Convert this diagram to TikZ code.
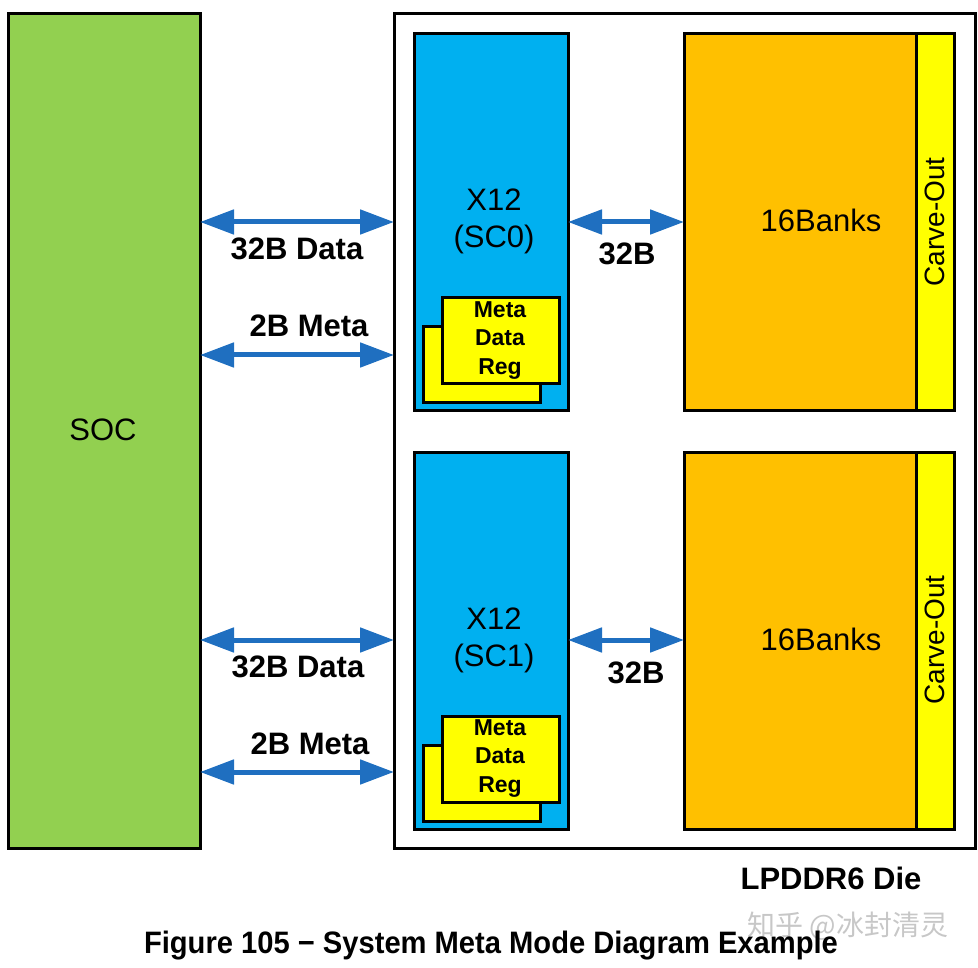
\documentclass[tikz,border=0pt]{standalone}
\usepackage{fontspec}
\setmainfont{Liberation Sans}
\newfontfamily\cjk{Noto Sans CJK SC}
\usetikzlibrary{arrows.meta}
\definecolor{socgreen}{HTML}{92D050}
\definecolor{scblue}{HTML}{00B0F0}
\definecolor{bankorange}{HTML}{FFC000}
\definecolor{coyellow}{HTML}{FFFF00}
\definecolor{arrblue}{HTML}{1F6FC0}
\tikzset{
  box/.style={draw=black, line width=3pt, anchor=north west, inner sep=0pt, outer sep=0pt},
  arr/.style={draw=arrblue, line width=5pt,
    {Triangle[length=34pt,width=24pt]}-{Triangle[length=34pt,width=24pt]}},
  regtxt/.style={font=\fontsize{31}{37}\selectfont, align=center, inner sep=0pt},
  lbl/.style={font=\fontsize{31}{37}\selectfont\bfseries, inner sep=0pt},
  mtxt/.style={font=\fontsize{23}{28.5}\selectfont\bfseries, align=center, inner sep=0pt},
  cotxt/.style={font=\fontsize{28}{34}\selectfont, rotate=90, inner sep=0pt},
}
\begin{document}
\begin{tikzpicture}[x=1pt,y=-1pt]
\useasboundingbox (0,0) rectangle (978,968);
% SOC
\node[box, fill=socgreen, minimum width=192pt, minimum height=834pt] (soc) at (8,14) {};
\node[regtxt] (soct) at (103,430) {SOC};
% Die
\node[box, fill=white, minimum width=581pt, minimum height=834pt] (die) at (394,14) {};
% Upper sub-channel
\node[box, fill=scblue, minimum width=154pt, minimum height=377pt] (sc0) at (414,34) {};
\node[regtxt] (sc0t) at (494,221.5) {X12\\(SC0)};
\node[box, fill=coyellow, minimum width=117pt, minimum height=76pt] (mdr0b) at (423,327) {};
\node[box, fill=coyellow, minimum width=117pt, minimum height=86pt] (mdr0f) at (442,298) {};
\node[mtxt] (mdr0t) at (500,340.5) {Meta\\Data\\Reg};
\node[box, fill=bankorange, minimum width=232pt, minimum height=377pt] (bk0) at (684,34) {};
\node[box, fill=coyellow, minimum width=38pt, minimum height=377pt] (co0) at (916,34) {};
\node[regtxt] (bk0t) at (821,220) {16Banks};
\node[cotxt] (co0t) at (935,222) {Carve-Out};
% Lower sub-channel
\node[box, fill=scblue, minimum width=154pt, minimum height=377pt] (sc1) at (414,452) {};
\node[regtxt] (sc1t) at (494,640.5) {X12\\(SC1)};
\node[box, fill=coyellow, minimum width=117pt, minimum height=76pt] (mdr1b) at (423,745) {};
\node[box, fill=coyellow, minimum width=117pt, minimum height=86pt] (mdr1f) at (442,716) {};
\node[mtxt] (mdr1t) at (500,758.5) {Meta\\Data\\Reg};
\node[box, fill=bankorange, minimum width=232pt, minimum height=377pt] (bk1) at (684,452) {};
\node[box, fill=coyellow, minimum width=38pt, minimum height=377pt] (co1) at (916,452) {};
\node[regtxt] (bk1t) at (821,639) {16Banks};
\node[cotxt] (co1t) at (935,640) {Carve-Out};
% Arrows
\draw[arr] (soc.east |- 0,222) -- (die.west |- 0,222);
\draw[arr] (soc.east |- 0,355) -- (die.west |- 0,355);
\draw[arr] (soc.east |- 0,640) -- (die.west |- 0,640);
\draw[arr] (soc.east |- 0,772) -- (die.west |- 0,772);
\draw[arr] (sc0.east |- 0,222) -- (bk0.west |- 0,222);
\draw[arr] (sc1.east |- 0,640) -- (bk1.west |- 0,640);
% Labels
\node[lbl] (l1) at (297,249) {32B Data};
\node[lbl] (l2) at (309,326) {2B Meta};
\node[lbl] (l3) at (298,667) {32B Data};
\node[lbl] (l4) at (310,744) {2B Meta};
\node[lbl] (l5) at (627,254) {32B};
\node[lbl] (l6) at (636,673) {32B};
\node[lbl] (diet) at (831,878) {LPDDR6 Die};
\node[text=black!22, font=\cjk\fontsize{28}{34}\selectfont, inner sep=0pt] (wm) at (848,926) {知乎 @冰封清灵};
\node[lbl, xscale=0.94] (title) at (491,946) {Figure 105 − System Meta Mode Diagram Example};
\end{tikzpicture}
\end{document}
